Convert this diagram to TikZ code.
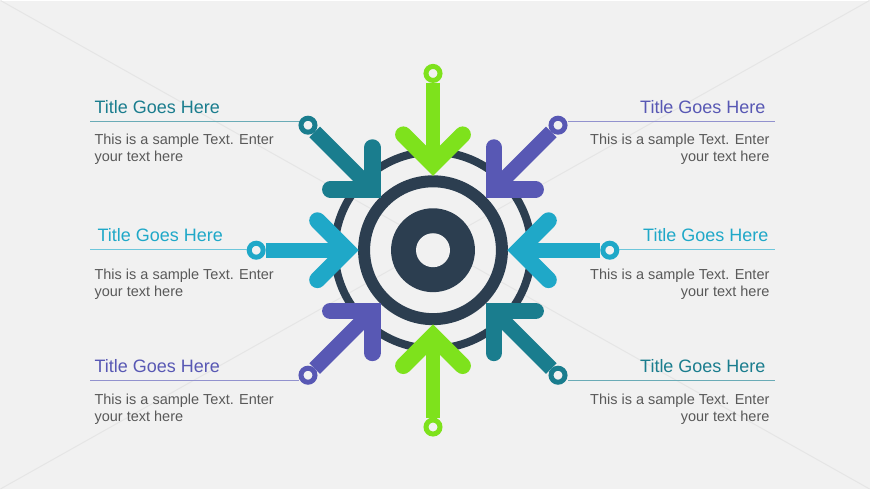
\documentclass[tikz,border=0pt]{standalone}
\usepackage{fontspec}
\setmainfont{Liberation Sans}
\usepackage{xcolor}
\definecolor{bgcol}{HTML}{F1F1F1}
\definecolor{faintcol}{HTML}{E5E5E5}
\definecolor{navycol}{HTML}{2C3E50}
\definecolor{greencol}{HTML}{7EE21C}
\definecolor{tealcol}{HTML}{1A7D8E}
\definecolor{cyancol}{HTML}{1FA8C8}
\definecolor{purplecol}{HTML}{5858B4}
\definecolor{bodycol}{HTML}{595959}

\tikzset{
  titletext/.style={inner sep=0pt, font=\fontsize{18}{20}\selectfont},
  bodytext/.style={inner sep=0pt, text=bodycol, font=\fontsize{14.5}{16.8}\selectfont},
  underline/.style={line width=1pt},
  endring/.style={circle, inner sep=0pt, minimum size=14pt, line width=5pt, fill=bgcol},
  shaft/.style={line width=15pt},
  chevron/.style={line width=16.5pt, line cap=round, line join=miter}
}

\begin{document}
\begin{tikzpicture}[x=1pt, y=-1pt]
    % Background and faint diagonals
    \coordinate (tl) at (0,0);
    \coordinate (tr) at (870,0);
    \coordinate (bl) at (0,489);
    \coordinate (br) at (870,489);
    \fill[bgcol] (tl) rectangle (br);
    \draw[faintcol, line width=1pt] (tl) -- (br);
    \draw[faintcol, line width=1pt] (bl) -- (tr);

    % Target rings
    \coordinate (c) at (433,250);
    \node[draw=navycol, circle, line width=8pt, minimum size=197pt] (outerring) at (c) {};
    \node[draw=navycol, circle, line width=12pt, minimum size=138pt] (midring) at (c) {};
    \node[fill=navycol, circle, minimum size=84pt] (core) at (c) {};
    \node[fill=bgcol, circle, minimum size=34pt] (hole) at (c) {};

    % Arrows pointing to the centre
    \foreach \ang/\col/\nm in {270/greencol/n, 315/purplecol/ne, 0/cyancol/e, 45/tealcol/se,
                               90/greencol/s, 135/purplecol/sw, 180/cyancol/w, 225/tealcol/nw} {
        \node[endring, draw=\col] (end\nm) at ([shift={(\ang:177)}]c) {};
        \coordinate (tip\nm) at ([shift={(\ang:86)}]c);
        \coordinate (armA\nm) at ([shift={(\ang+45:42)}]tip\nm);
        \coordinate (armB\nm) at ([shift={(\ang-45:42)}]tip\nm);
        \draw[shaft, \col] (end\nm) -- (tip\nm);
        \draw[chevron, \col] (armA\nm) -- (tip\nm) -- (armB\nm);
    }

    % Left side texts
    \node[titletext, text=tealcol, anchor=base west] (title1) at (94,113) {Title Goes Here};
    \coordinate (ul1) at (90,121);
    \draw[underline, tealcol!65] (ul1) -- (ul1 -| endnw.west);
    \node[bodytext, anchor=base west, align=left] (body1) at (94,161) {This is a sample Text. Enter\\your text here};

    \node[titletext, text=cyancol, anchor=base west] (title2) at (97,241.5) {Title Goes Here};
    \coordinate (ul2) at (90,249);
    \draw[underline, cyancol!65] (ul2) -- (ul2 -| endw.west);
    \node[bodytext, anchor=base west, align=left] (body2) at (94,296.5) {This is a sample Text. Enter\\your text here};

    \node[titletext, text=purplecol, anchor=base west] (title3) at (94,372.5) {Title Goes Here};
    \coordinate (ul3) at (90,380);
    \draw[underline, purplecol!65] (ul3) -- (ul3 -| endsw.west);
    \node[bodytext, anchor=base west, align=left] (body3) at (94,421) {This is a sample Text. Enter\\your text here};

    % Right side texts
    \node[titletext, text=purplecol, anchor=base east] (title4) at (766,113) {Title Goes Here};
    \coordinate (ul4) at (775,121);
    \draw[underline, purplecol!65] (ul4) -- (ul4 -| endne.east);
    \node[bodytext, anchor=base east, align=right] (body4) at (770,161) {This is a sample Text. Enter\\your text here};

    \node[titletext, text=cyancol, anchor=base east] (title5) at (769,241.5) {Title Goes Here};
    \coordinate (ul5) at (775,249);
    \draw[underline, cyancol!65] (ul5) -- (ul5 -| ende.east);
    \node[bodytext, anchor=base east, align=right] (body5) at (770,296.5) {This is a sample Text. Enter\\your text here};

    \node[titletext, text=tealcol, anchor=base east] (title6) at (766,372.5) {Title Goes Here};
    \coordinate (ul6) at (775,380);
    \draw[underline, tealcol!65] (ul6) -- (ul6 -| endse.east);
    \node[bodytext, anchor=base east, align=right] (body6) at (770,421) {This is a sample Text. Enter\\your text here};
\end{tikzpicture}
\end{document}
